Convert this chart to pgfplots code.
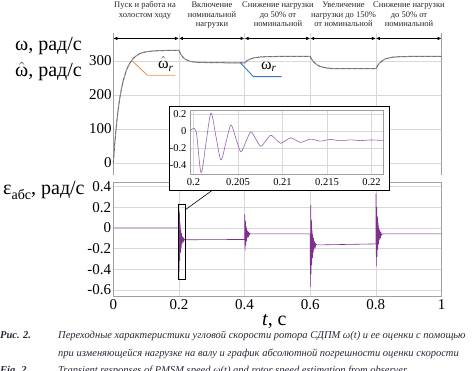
\documentclass[border=0pt]{standalone}
\usepackage{fontspec}
\setmainfont{Liberation Serif}
\usepackage{amsmath}
\usepackage{pgfplots}
\pgfplotsset{compat=1.18}
\usepackage{pgfplotstable}
\usetikzlibrary{arrows.meta}

\definecolor{wblue}{RGB}{52,120,190}
\definecolor{worange}{RGB}{232,150,80}
\definecolor{wgray}{RGB}{118,118,126}
\definecolor{epurple}{RGB}{126,47,142}
\definecolor{ilav}{RGB}{150,100,170}
\definecolor{gridc}{RGB}{216,216,216}
\definecolor{spinec}{RGB}{160,160,160}
\definecolor{capc}{RGB}{40,40,55}

\pgfplotstableread{
t w
0 0
0.005 64.5
0.01 117
0.015 158.5
0.02 192
0.025 219
0.03 241
0.04 273
0.05 293
0.06 306.5
0.07 315
0.08 321
0.09 324.5
0.1 326.7
0.12 329.2
0.15 330.5
0.2 331
0.205 321
0.21 313.5
0.215 308.3
0.22 304.5
0.23 300
0.24 297.5
0.26 295.7
0.3 295
0.4 294
0.405 298.6
0.41 302
0.42 306.7
0.43 309.4
0.45 311.8
0.47 312.6
0.5 313
0.6 313
0.605 304.3
0.61 297.7
0.62 288.8
0.63 283.8
0.65 279.2
0.67 277.7
0.7 277.1
0.8 277
0.805 285.7
0.81 292.3
0.82 301.2
0.83 306.2
0.85 310.8
0.87 312.3
0.9 313
1.0 313
}\speed

\pgfplotstableread{
t e
0 0
0.2 0
0.2004 -0.42
0.2015 0.16
0.2026 -0.32
0.2037 0.05
0.2048 -0.24
0.2059 -0.02
0.207 -0.19
0.2081 -0.05
0.2092 -0.155
0.2103 -0.08
0.2114 -0.14
0.2125 -0.095
0.2136 -0.125
0.2147 -0.105
0.2158 -0.12
0.2169 -0.11
0.22 -0.115
0.4 -0.112
0.4004 0.13
0.4015 -0.22
0.4026 0.07
0.4037 -0.17
0.4048 0.02
0.4059 -0.13
0.407 -0.01
0.4081 -0.1
0.4092 -0.03
0.4103 -0.085
0.4114 -0.04
0.4125 -0.075
0.4136 -0.05
0.4147 -0.065
0.4158 -0.055
0.42 -0.058
0.6 -0.058
0.6004 -0.57
0.6015 0.22
0.6026 -0.45
0.6037 0.08
0.6048 -0.36
0.6059 -0.02
0.607 -0.29
0.6081 -0.07
0.6092 -0.24
0.6103 -0.1
0.6114 -0.21
0.6125 -0.125
0.6136 -0.19
0.6147 -0.14
0.6158 -0.18
0.6169 -0.155
0.62 -0.165
0.8 -0.155
0.8004 0.33
0.8015 -0.37
0.8026 0.2
0.8037 -0.28
0.8048 0.11
0.8059 -0.21
0.807 0.05
0.8081 -0.16
0.8092 0.0
0.8103 -0.12
0.8114 -0.02
0.8125 -0.1
0.8136 -0.04
0.8147 -0.08
0.8158 -0.05
0.8169 -0.07
0.82 -0.058
1.0 -0.058
}\errmain

\pgfplotstableread{
t e
0.1996 0
0.20028 0
0.20084 -0.49
0.2014 -0.14
0.20196 0.21
0.20252 -0.065
0.20308 -0.34
0.20364 -0.135
0.2042 0.07
0.20476 -0.0875
0.20532 -0.245
0.20588 -0.1275
0.20644 -0.01
0.207 -0.095
0.20756 -0.18
0.20812 -0.115
0.20868 -0.05
0.20924 -0.0975
0.2098 -0.145
0.21036 -0.1125
0.21092 -0.08
0.21148 -0.1075
0.21204 -0.135
0.2126 -0.115
0.21316 -0.095
0.21372 -0.1075
0.21428 -0.12
0.2154 -0.1
0.21652 -0.115
0.21764 -0.104
0.21876 -0.113
0.21988 -0.106
0.221 -0.11
0.2213 -0.109
}\errzoom

\begin{document}
\begin{tikzpicture}[x=1pt,y=1pt]
\clip (0,0) rectangle (474,371);

% ---------- top axis: speed ----------
\begin{axis}[
  at={(113.3pt,196pt)}, anchor=south west, scale only axis,
  width=328.2pt, height=142pt,
  xmin=0, xmax=1, ymin=-35, ymax=382,
  xtick={0,0.2,0.4,0.6,0.8,1}, xticklabels={},
  ytick={0,100,200,300},
  grid=major, grid style={gridc, line width=0.6pt},
  separate axis lines,
  axis line style={spinec, line width=0.8pt},
  x axis line style={draw=none},
  major tick length=0pt,
  tick label style={font=\rmfamily\fontsize{15}{15}\selectfont},
  yticklabel style={inner xsep=1.5pt},
  /pgf/number format/assume math mode=true,
  clip=false,
]
\addplot[wgray, line width=1pt] table[x=t,y=w] {\speed};
\addplot[wblue, line width=0.5pt, dash pattern=on 2pt off 4pt] table[x=t,y=w] {\speed};
\addplot[worange, line width=0.5pt, dash pattern=on 2pt off 4pt, dash phase=3pt] table[x=t,y=w] {\speed};
\addplot[worange, line width=0.9pt] coordinates {(0.058,300) (0.1035,258) (0.189,258)};
\addplot[wblue, line width=0.9pt] coordinates {(0.386,296) (0.4265,254) (0.513,254)};
\node[font=\rmfamily\fontsize{16}{16}\selectfont] at (axis cs:0.16,291) {$\hat{\text{ω}}_{\text{\itshape r}}$};
\node[font=\rmfamily\fontsize{16}{16}\selectfont] at (axis cs:0.474,283) {$\text{ω}_{\text{\itshape r}}$};
\draw[{Latex[length=4pt,width=3.6pt]}-{Latex[length=4pt,width=3.6pt]}, line width=1.2pt] (axis cs:0,366) -- (axis cs:0.2,366);
\draw[{Latex[length=4pt,width=3.6pt]}-{Latex[length=4pt,width=3.6pt]}, line width=1.2pt] (axis cs:0.2,366) -- (axis cs:0.4,366);
\draw[{Latex[length=4pt,width=3.6pt]}-{Latex[length=4pt,width=3.6pt]}, line width=1.2pt] (axis cs:0.4,366) -- (axis cs:0.6,366);
\draw[{Latex[length=4pt,width=3.6pt]}-{Latex[length=4pt,width=3.6pt]}, line width=1.2pt] (axis cs:0.6,366) -- (axis cs:0.8,366);
\draw[{Latex[length=4pt,width=3.6pt]}-{Latex[length=4pt,width=3.6pt]}, line width=1.2pt] (axis cs:0.8,366) -- (axis cs:1,366);
\end{axis}

% ---------- bottom axis: error ----------
\begin{axis}[
  at={(113.3pt,75pt)}, anchor=south west, scale only axis,
  width=328.2pt, height=113.7pt,
  xmin=0, xmax=1, ymin=-0.658, ymax=0.44,
  xtick={0,0.2,0.4,0.6,0.8,1},
  ytick={-0.6,-0.4,-0.2,0,0.2,0.4},
  grid=major, grid style={gridc, line width=0.6pt},
  axis line style={spinec, line width=0.8pt},
  major tick length=0pt,
  tick label style={font=\rmfamily\fontsize{15}{15}\selectfont},
  yticklabel style={inner xsep=2pt},
  /pgf/number format/assume math mode=true,
  clip=false,
]
\addplot[epurple, line width=0.6pt] table[x=t,y=e] {\errmain};
\draw[black, line width=0.8pt] (axis cs:0.1975,0.225) rectangle (axis cs:0.219,-0.5);
\end{axis}

% ---------- inset ----------
\draw[black, line width=1pt, fill=white] (169,180.5) rectangle (389,264.5);
\draw[black, line width=0.6pt] (185,161) -- (212,180.5);
\begin{axis}[
  at={(190pt,197pt)}, anchor=south west, scale only axis,
  width=193pt, height=64pt,
  xmin=0.1996, xmax=0.2213, ymin=-0.506, ymax=0.247,
  xtick={0.2,0.205,0.21,0.215,0.22},
  ytick={-0.4,-0.2,0,0.2},
  scaled x ticks=false, scaled y ticks=false,
  xticklabel style={/pgf/number format/precision=3, /pgf/number format/fixed, yshift=-1pt},
  grid=major, grid style={gridc, line width=0.5pt},
  axis line style={spinec, line width=0.6pt},
  major tick length=0pt,
  tick label style={font=\rmfamily\fontsize{10.5}{10.5}\selectfont},
  /pgf/number format/assume math mode=true,
]
\addplot[ilav, line width=0.6pt, smooth, tension=0.5] table[x=t,y=e] {\errzoom};
\end{axis}

% ---------- header texts ----------
\begin{scope}[every node/.style={font=\rmfamily\fontsize{8.5}{9.5}\selectfont, text=black!85, anchor=base, inner sep=0pt}]
\node at (145,363) {Пуск и работа на};
\node at (145,353.5) {холостом ходу};
\node at (212,363) {Включение};
\node at (212,353.5) {номинальной};
\node at (212,344) {нагрузки};
\node at (278,363) {Снижение нагрузки};
\node at (278,353.5) {до 50\% от};
\node at (278,344) {номинальной};
\node at (343.5,363) {Увеличение};
\node at (343.5,353.5) {нагрузки до 150\%};
\node at (343.5,344) {от номинальной};
\node at (409,363) {Снижение нагрузки};
\node at (409,353.5) {до 50\% от};
\node at (409,344) {номинальной};
\end{scope}

% ---------- axis labels ----------
\node[anchor=base west, inner sep=0pt, font=\rmfamily\fontsize{20}{24}\selectfont] at (15,320) {ω, рад/с};
\node[anchor=base west, inner sep=0pt, font=\rmfamily\fontsize{20}{24}\selectfont] at (15,294) {$\hat{\text{ω}}$, рад/с};
\node[anchor=base west, inner sep=0pt, font=\rmfamily\fontsize{20}{24}\selectfont] at (3,176) {ε\raisebox{-0.22em}{\fontsize{14}{16}\selectfont абс}, рад/с};
\node[anchor=base west, inner sep=0pt, font=\rmfamily\fontsize{20}{24}\selectfont] at (262,45) {\textit{t}, с};

% ---------- caption ----------
\begin{scope}[every node/.style={anchor=base west, inner sep=0pt, font=\rmfamily\fontsize{10.5}{13}\selectfont\itshape, text=capc}]
\node at (0,32.5) {\textbf{Рис. 2.}};
\node at (58,32.5) {Переходные характеристики угловой скорости ротора СДПМ ω(t) и ее оценки с помощью};
\node at (58,14.5) {при изменяющейся нагрузке на валу и график абсолютной погрешности оценки скорости};
\node at (0,-3) {\textbf{Fig. 2.}};
\node at (58,-3) {Transient responses of PMSM speed ω(t) and rotor speed estimation from observer};
\end{scope}
\end{tikzpicture}
\end{document}
